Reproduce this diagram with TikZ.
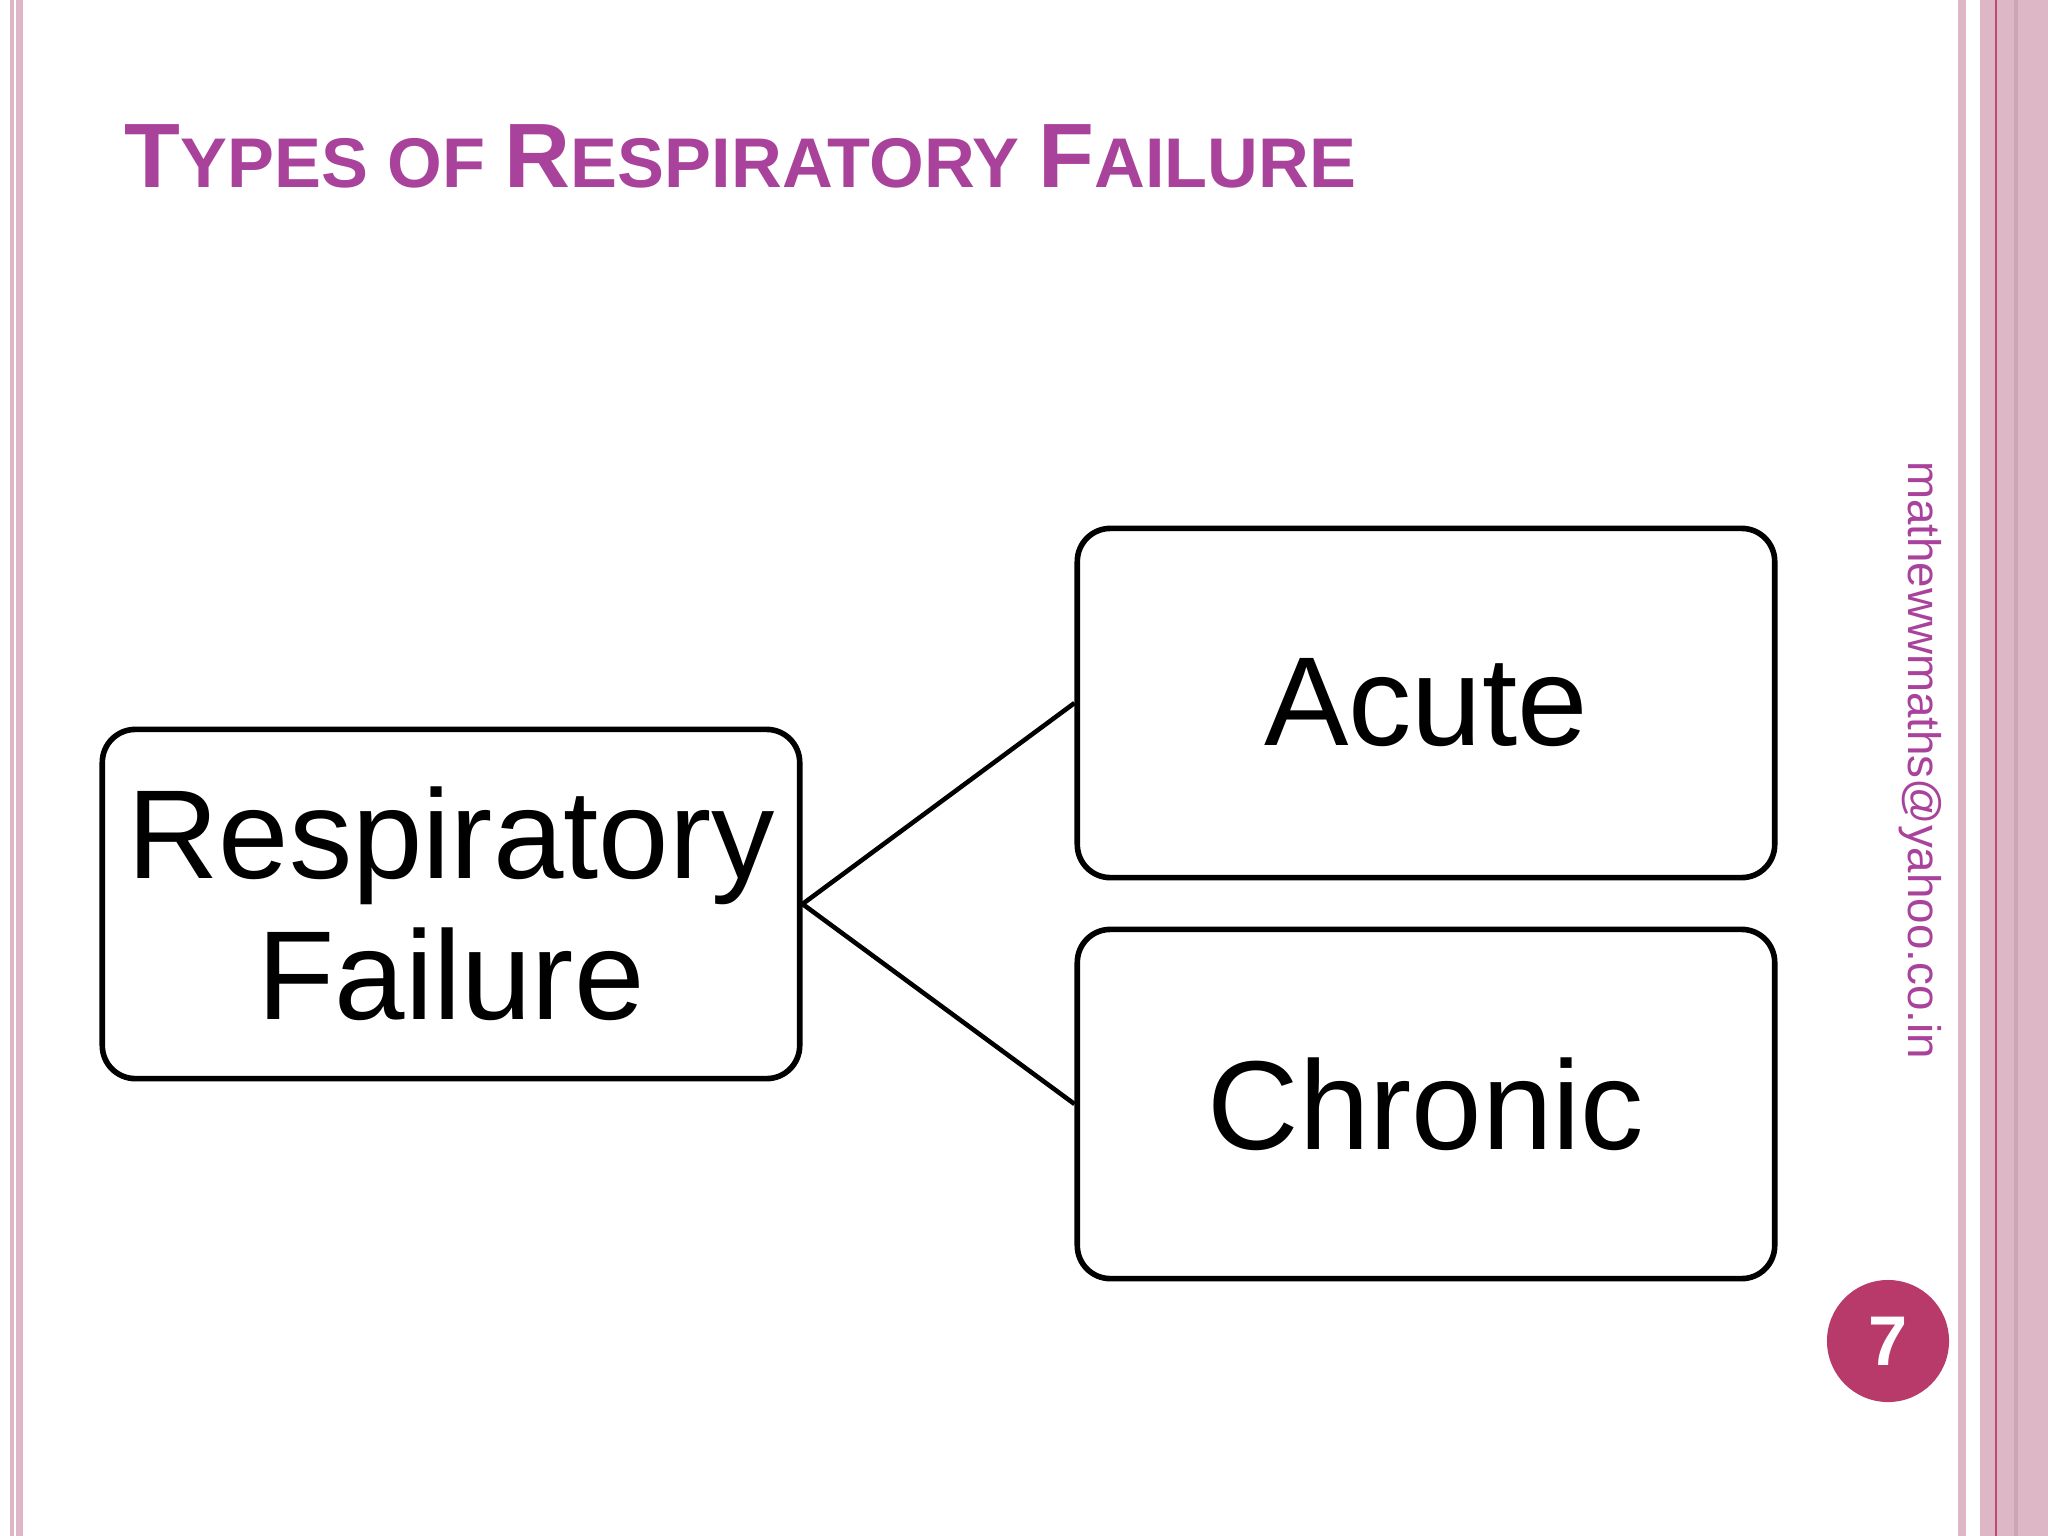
\documentclass[tikz,border=0pt]{standalone}
\usepackage{fontspec}
\setmainfont{Liberation Sans}
\usetikzlibrary{positioning}
\definecolor{titlepink}{HTML}{A8429B}
\definecolor{stripe}{HTML}{DDB7C5}
\definecolor{darkstripe}{HTML}{C04A6E}
\definecolor{pagebadge}{HTML}{B83A6A}
\tikzset{
  box/.style={draw=black, line width=1.6pt, rounded corners=0.33cm, minimum width=6.97cm, minimum height=3.49cm, align=center, font=\fontsize{36}{40}\selectfont, inner sep=0pt},
  link/.style={draw=black, line width=1.3pt}
}
\begin{document}
\begin{tikzpicture}[x=0.01cm, y=-0.01cm]
\useasboundingbox (0,0) rectangle (2048,1536);
% border stripes
\fill[stripe] (10,0) rectangle (14,1536);
\fill[stripe] (16,0) rectangle (23,1536);
\fill[stripe] (1958,0) rectangle (1966,1536);
\fill[stripe] (1980,0) rectangle (2048,1536);
\fill[stripe!85!black!60!stripe] (2014,0) rectangle (2018,1536);
\fill[darkstripe] (1995,0) rectangle (1997,1536);
% title
\node[anchor=base west, text=titlepink, font=\bfseries, inner sep=0pt] (title) at (124,187)
  {\fontsize{26}{30}\selectfont T\fontsize{20}{24}\selectfont YPES OF \fontsize{26}{30}\selectfont R\fontsize{20}{24}\selectfont ESPIRATORY \fontsize{26}{30}\selectfont F\fontsize{20}{24}\selectfont AILURE};
% boxes
\node[box] (resp) at (451,904) {Respiratory\\Failure};
\node[box] (acute) at (1426,703) {Acute};
\node[box] (chronic) at (1426,1104) {Chronic};
\draw[link] (resp.east) -- (acute.west);
\draw[link] (resp.east) -- (chronic.west);
% side note and page number
\node[rotate=-90, text=titlepink, font=\fontsize{13}{15}\selectfont] (mail) at (1920,760) {mathewwmaths@yahoo.co.in};
\node[circle, fill=pagebadge, minimum size=1.22cm, text=white, font=\bfseries\fontsize{20}{24}\selectfont] (page) at (1888,1341) {7};
\end{tikzpicture}
\end{document}
